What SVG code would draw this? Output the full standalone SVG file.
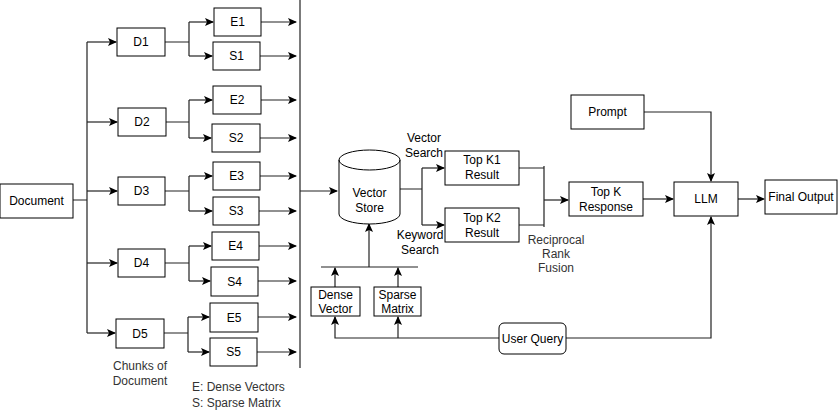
<svg xmlns="http://www.w3.org/2000/svg" width="839" height="416" viewBox="0 0 839 416">
<style>
.b{fill:#fff;stroke:#000;stroke-width:1}
.t{font-family:"Liberation Sans",Arial,sans-serif;font-size:12px;fill:#000;text-anchor:middle}
.l{font-family:"Liberation Sans",Arial,sans-serif;font-size:12px;fill:#333;text-anchor:middle}
.c{fill:none;stroke:#222;stroke-width:1.2}
.a{marker-end:url(#ar)}
</style>
<defs><marker id="ar" markerWidth="10" markerHeight="8" refX="8" refY="4" orient="auto" markerUnits="userSpaceOnUse"><path d="M0,0 L9,4 L0,8 L2,4 Z" fill="#000"/></marker></defs>
<rect width="839" height="416" fill="#fff"/>
<g id="connectors">
<path class="c" d="M73,200 H87 M87,42 V333"/>
<path class="c a" d="M87,42 H116"/><path class="c a" d="M87,122 H117"/><path class="c a" d="M87,191 H117"/><path class="c a" d="M87,263 H117"/><path class="c a" d="M87,333 H115"/>
<path class="c" d="M165,42 H189 V22 M189,42 V56"/><path class="c a" d="M189,22 H213"/><path class="c a" d="M189,56 H212"/>
<path class="c" d="M166,122 H189 V100 M189,122 V138"/><path class="c a" d="M189,100 H212"/><path class="c a" d="M189,138 H211"/>
<path class="c" d="M165,191 H189 V176 M189,191 V211"/><path class="c a" d="M189,176 H212"/><path class="c a" d="M189,211 H212"/>
<path class="c" d="M165,263 H189 V246 M189,263 V281"/><path class="c a" d="M189,246 H211"/><path class="c a" d="M189,281 H210"/>
<path class="c" d="M164,333 H188 V317 M188,333 V352"/><path class="c a" d="M188,317 H209"/><path class="c a" d="M188,352 H209"/>
<path class="c a" d="M261,22 H296"/><path class="c a" d="M260,56 H296"/><path class="c a" d="M261,100 H296"/><path class="c a" d="M260,138 H296"/><path class="c a" d="M260,176 H296"/><path class="c a" d="M259,211 H296"/><path class="c a" d="M259,246 H296"/><path class="c a" d="M258,281 H296"/><path class="c a" d="M258,317 H296"/><path class="c a" d="M257,352 H296"/>
<path class="c" d="M300,0 V368"/>
<path class="c a" d="M300,191 H337"/>
<path class="c" d="M400,189 H422 V168 M422,189 V225"/><path class="c a" d="M422,168 H444"/><path class="c a" d="M422,225 H444"/>
<path class="c" d="M519,168 H544 M519,225 H544 M544,166 V227"/><path class="c a" d="M544,200 H568"/>
<path class="c a" d="M643,199 H673"/><path class="c a" d="M738,199 H764"/>
<path class="c a" d="M644,112 H711 V181"/>
<path class="c a" d="M566,338 H711 V217"/>
<path class="c a" d="M499,338 H335 V317"/><path class="c a" d="M398,338 V317"/>
<path class="c" d="M321,267 H418"/><path class="c a" d="M335,287 V268"/><path class="c a" d="M398,287 V268"/>
<path class="c a" d="M369,267 V224"/>
</g>
<g id="document"><rect class="b" x="0" y="184" width="73" height="34"/><text class="t" x="36.5" y="205">Document</text></g>
<g id="d1"><rect class="b" x="117" y="28" width="48" height="28"/><text class="t" x="141" y="46">D1</text></g>
<g id="d2"><rect class="b" x="118" y="108" width="48" height="28"/><text class="t" x="142" y="126">D2</text></g>
<g id="d3"><rect class="b" x="118" y="177" width="47" height="28"/><text class="t" x="141.5" y="195">D3</text></g>
<g id="d4"><rect class="b" x="118" y="249" width="47" height="28"/><text class="t" x="141.5" y="267">D4</text></g>
<g id="d5"><rect class="b" x="116" y="319" width="48" height="29"/><text class="t" x="140" y="338">D5</text></g>
<g id="e1"><rect class="b" x="214" y="8" width="47" height="28"/><text class="t" x="237.5" y="26">E1</text></g>
<g id="s1"><rect class="b" x="213" y="42" width="47" height="28"/><text class="t" x="236.5" y="60">S1</text></g>
<g id="e2"><rect class="b" x="213" y="86" width="48" height="28"/><text class="t" x="237" y="104">E2</text></g>
<g id="s2"><rect class="b" x="212" y="124" width="48" height="28"/><text class="t" x="236" y="142">S2</text></g>
<g id="e3"><rect class="b" x="213" y="162" width="47" height="28"/><text class="t" x="236.5" y="180">E3</text></g>
<g id="s3"><rect class="b" x="213" y="197" width="46" height="28"/><text class="t" x="236" y="215">S3</text></g>
<g id="e4"><rect class="b" x="212" y="232" width="47" height="28"/><text class="t" x="235.5" y="250">E4</text></g>
<g id="s4"><rect class="b" x="211" y="267" width="47" height="29"/><text class="t" x="234.5" y="286">S4</text></g>
<g id="e5"><rect class="b" x="210" y="303" width="48" height="29"/><text class="t" x="234" y="322">E5</text></g>
<g id="s5"><rect class="b" x="210" y="338" width="47" height="28"/><text class="t" x="233.5" y="356">S5</text></g>
<g id="vectorstore"><path class="b" d="M339,160 V214 A30.5,10 0 0 0 400,214 V160 A30.5,10 0 0 0 339,160 Z M339,160 A30.5,10 0 0 0 400,160"/><text class="t" x="369.5" y="197">Vector</text><text class="t" x="369.5" y="212">Store</text></g>
<g id="topk1"><rect class="b" x="445" y="151" width="74" height="34"/><text class="t" x="482" y="164">Top K1</text><text class="t" x="482" y="179">Result</text></g>
<g id="topk2"><rect class="b" x="445" y="208" width="74" height="34"/><text class="t" x="482" y="222">Top K2</text><text class="t" x="482" y="237">Result</text></g>
<g id="topk"><rect class="b" x="569" y="182" width="74" height="34"/><text class="t" x="606" y="196">Top K</text><text class="t" x="606" y="211">Response</text></g>
<g id="prompt"><rect class="b" x="571" y="95" width="73" height="34"/><text class="t" x="607.5" y="116">Prompt</text></g>
<g id="llm"><rect class="b" x="674" y="182" width="64" height="34"/><text class="t" x="706" y="203">LLM</text></g>
<g id="final"><rect class="b" x="765" y="180" width="72" height="34"/><text class="t" x="801" y="201">Final Output</text></g>
<g id="dense"><rect class="b" x="311" y="287" width="49" height="29"/><text class="t" x="335.5" y="299">Dense</text><text class="t" x="335.5" y="313">Vector</text></g>
<g id="sparse"><rect class="b" x="374" y="287" width="47" height="29"/><text class="t" x="397.5" y="299">Sparse</text><text class="t" x="397.5" y="313">Matrix</text></g>
<g id="userquery"><rect class="b" x="499" y="323" width="67" height="31" rx="5"/><text class="t" x="532.5" y="343">User Query</text></g>
<g id="labels">
<text class="t" x="424" y="142">Vector</text><text class="t" x="424" y="157">Search</text>
<text class="t" x="420" y="239">Keyword</text><text class="t" x="420" y="254">Search</text>
<text class="l" x="556" y="244">Reciprocal</text><text class="l" x="556" y="258">Rank</text><text class="l" x="556" y="272">Fusion</text>
<text class="l" x="140" y="370">Chunks of</text><text class="l" x="140" y="385">Document</text>
<text class="l" x="192" y="391" text-anchor="start" style="text-anchor:start">E: Dense Vectors</text>
<text class="l" x="192" y="407" style="text-anchor:start">S: Sparse Matrix</text>
</g>
</svg>
